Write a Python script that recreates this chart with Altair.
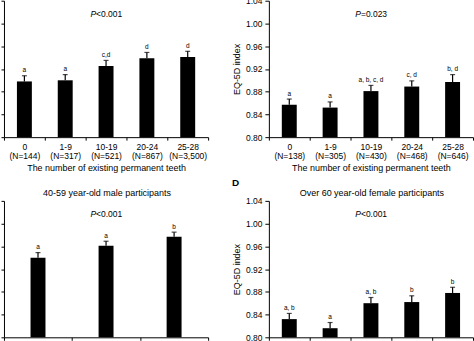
import altair as alt
import pandas as pd

# ---------------- data ----------------
teeth = ["0", "1-9", "10-19", "20-24", "25-28"]

a_n = ["N=144", "N=317", "N=521", "N=867", "N=3,500"]
a_mean = [0.898, 0.900, 0.925, 0.939, 0.941]
a_upper = [0.908, 0.910, 0.935, 0.949, 0.951]
a_sig = ["a", "a", "c,d", "d", "d"]
a_p = "<0.001"

b_n = ["N=138", "N=305", "N=430", "N=468", "N=646"]
b_mean = [0.857, 0.852, 0.881, 0.889, 0.897]
b_upper = [0.867, 0.862, 0.891, 0.899, 0.910]
b_sig = ["a", "a", "a, b, c, d", "c, d", "b, d"]
b_p = "=0.023"

c_title = "40-59 year-old male participants"
c_groups = ["0-19", "20-24", "25-28"]
c_mean = [0.940, 0.961, 0.977]
c_upper = [0.949, 0.969, 0.985]
c_sig = ["a", "a", "b"]
c_p = "<0.001"

d_title = "Over 60 year-old female participants"
d_mean = [0.832, 0.816, 0.860, 0.862, 0.878]
d_upper = [0.842, 0.826, 0.870, 0.873, 0.888]
d_sig = ["a, b", "a", "a, b", "b", "b"]
d_p = "<0.001"

y_ticks = [0.80, 0.84, 0.88, 0.92, 0.96, 1.00, 1.04]
x_title = "The number of existing permanent teeth"
y_title = "EQ-5D index"

W, H = 205, 137
FONT = "Liberation Sans"


def panel(cats, mean, upper, sig, p_text, show_y, show_x, title=None, letter=None):
    df = pd.DataFrame({"cat": cats, "mean": mean, "upper": upper, "sig": sig})
    if show_x:
        xaxis = alt.Axis(title=x_title, labelAngle=0, tickBand="extent", tickSize=3,
                         labelPadding=2, labelFontSize=8.5, labelLineHeight=9.5,
                         titleFontSize=9, titleFontWeight="normal", titlePadding=3,
                         labelExpr="split(datum.label, '|')")
    else:
        xaxis = alt.Axis(title=None, labels=False, tickBand="extent", tickSize=3)
    if show_y:
        yaxis = alt.Axis(title=y_title, values=y_ticks, format=".2f", tickSize=4,
                         labelPadding=3, labelFontSize=8.5, titleFontSize=9,
                         titleFontWeight="normal", titlePadding=4, labelOverlap=False)
    else:
        yaxis = alt.Axis(title=None, labels=False, values=y_ticks, tickSize=3)

    x = alt.X("cat:N", sort=cats, scale=alt.Scale(paddingInner=0, paddingOuter=0), axis=xaxis)
    yscale = alt.Scale(domain=[0.80, 1.04], zero=False, nice=False)
    base = alt.Chart(df)
    bars = base.mark_bar(width=15, color="black").encode(
        x=x, y=alt.Y("mean:Q", scale=yscale, axis=yaxis), y2=alt.datum(0.80))
    err = base.mark_rule(color="black", strokeWidth=1.2).encode(
        x=x, y=alt.Y("mean:Q", scale=yscale, axis=yaxis), y2="upper:Q")
    cap = base.mark_tick(color="black", size=5, thickness=1.2, orient="horizontal").encode(
        x=x, y=alt.Y("upper:Q", scale=yscale, axis=yaxis))
    sigt = base.mark_text(baseline="alphabetic", dy=-3.5, fontSize=6.5, color="black",
                          font=FONT).encode(x=x, y=alt.Y("upper:Q", scale=yscale, axis=yaxis),
                                            text="sig:N")
    pdf = alt.Chart(pd.DataFrame({"p": [p_text]}))
    p1 = pdf.mark_text(text="P", fontStyle="italic", align="right", baseline="alphabetic",
                       fontSize=8.5, color="black", font=FONT).encode(
        x=alt.value(W / 2 - 10), y=alt.value(16))
    p2 = pdf.mark_text(align="left", baseline="alphabetic", fontSize=8.5, color="black",
                       font=FONT).encode(x=alt.value(W / 2 - 10), y=alt.value(16), text="p:N")
    layers = [bars, err, cap, sigt, p1, p2]
    if title:
        tdf = alt.Chart(pd.DataFrame({"t": [title]}))
        layers.append(tdf.mark_text(align="center", baseline="middle", fontSize=9,
                                    color="black", font=FONT).encode(
            x=alt.value(W / 2 + 1), y=alt.value(-8), text="t:N"))
    if letter:
        layers.append(pdf.mark_text(text=letter, fontWeight="bold", fontSize=10, align="center",
                                    baseline="middle", color="black", font=FONT).encode(
            x=alt.value(-33.5), y=alt.value(-17.5)))
    return alt.layer(*layers).properties(width=W, height=H)


pa = panel([t + "|(" + n + ")" for t, n in zip(teeth, a_n)], a_mean, a_upper, a_sig, a_p,
           show_y=False, show_x=True)
pb = panel([t + "|(" + n + ")" for t, n in zip(teeth, b_n)], b_mean, b_upper, b_sig, b_p,
           show_y=True, show_x=True)
pc = panel(c_groups, c_mean, c_upper, c_sig, c_p, show_y=False, show_x=False, title=c_title)
pd_ = panel(teeth, d_mean, d_upper, d_sig, d_p, show_y=True, show_x=False, title=d_title,
            letter="D")

chart = alt.concat(pa, pb, pc, pd_, columns=2, spacing={"row": 64, "column": 61},
                   bounds="flush").properties(
    padding={"left": 0, "top": -4, "right": 0, "bottom": 0}
).configure(font=FONT).configure_view(stroke=None).configure_axis(
    domainColor="black", tickColor="black", labelColor="black", titleColor="black",
    grid=False, labelFont=FONT, titleFont=FONT
)

chart.save("out.html", embed_options={"renderer": "svg", "actions": False})
